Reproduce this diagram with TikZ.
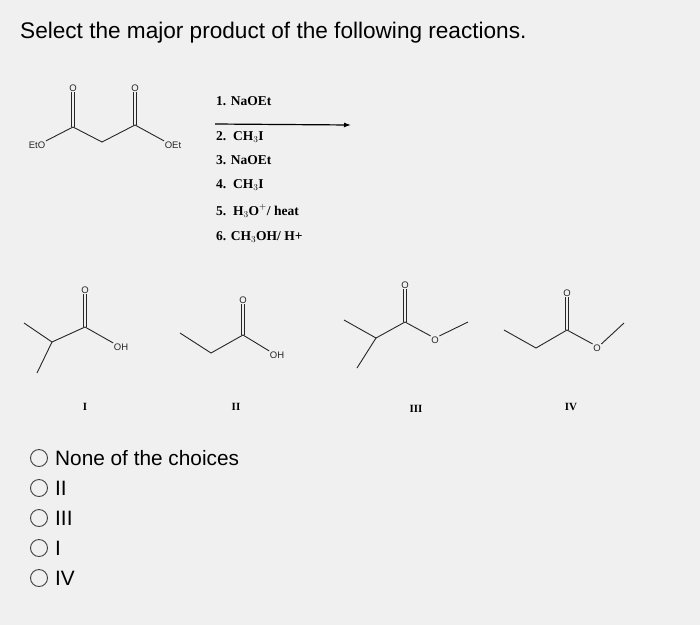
\documentclass[tikz,border=0pt]{standalone}
\usepackage{fontspec}
\setmainfont{Liberation Sans}
\newfontfamily\tms{Liberation Serif}
\usetikzlibrary{arrows.meta}
\begin{document}
\begin{tikzpicture}[x=1pt,y=-1pt,
  bond/.style={line width=0.9pt,black!85},
  atom/.style={inner sep=0.5pt,font=\fontsize{9.5}{10}\selectfont,text=black!85},
  reag/.style={anchor=west,inner sep=0,font=\tms\bfseries\fontsize{13.5}{15}\selectfont},
  numlab/.style={inner sep=0,font=\tms\bfseries\fontsize{11}{12}\selectfont},
  choice/.style={anchor=west,inner sep=0,font=\fontsize{20.8}{24}\selectfont},
  radio/.style={circle,draw=black!75,line width=0.9pt,minimum size=17pt,inner sep=0}]
\fill[black!6] (0,0) rectangle (700,625);
\useasboundingbox (0,0) rectangle (700,625);
\node[anchor=west,inner sep=0,font=\fontsize{22.6}{26}\selectfont] (title) at (20,33) {Select the major product of the following reactions.};
% starting material
\node[atom] (eto) at (37,145) {EtO};
\coordinate (c1) at (73,127);
\node[atom] (o1) at (73,88) {O};
\coordinate (ch2) at (102,142);
\coordinate (c2) at (135,125);
\node[atom] (o2) at (135,88) {O};
\node[atom] (oet) at (173,145) {OEt};
\draw[bond] (eto.north east) -- (c1) -- (ch2) -- (c2) -- (oet.north west);
\draw[bond] ([xshift=-1.6pt]c1) -- ([xshift=-1.6pt]o1.south);
\draw[bond] ([xshift=1.6pt]c1) -- ([xshift=1.6pt]o1.south);
\draw[bond] ([xshift=-1.6pt]c2) -- ([xshift=-1.6pt]o2.south);
\draw[bond] ([xshift=1.6pt]c2) -- ([xshift=1.6pt]o2.south);
% reagents
\node[reag] (r1) at (216,101) {1. NaOEt};
\coordinate (a1) at (215,124);
\coordinate (a2) at (351,125);
\draw[line width=1.2pt,-{Latex[length=7pt,width=5pt]}] (a1) -- (a2);
\node[reag] (r2) at (216,137) {2.\ \ CH$_3$I};
\node[reag] (r3) at (216,160) {3. NaOEt};
\node[reag] (r4) at (216,185) {4.\ \ CH$_3$I};
\node[reag] (r5) at (216,211) {5.\ \ H$_3$O$^+$/ heat};
\node[reag] (r6) at (216,237) {6. CH$_3$OH/ H+};
% product I
\coordinate (i1) at (24,323); \coordinate (i2) at (52,342); \coordinate (i3) at (37,373);
\coordinate (ic) at (85,327); \node[atom] (io) at (85,290) {O}; \node[atom] (ioh) at (121,347) {OH};
\draw[bond] (i1) -- (i2) -- (ic) -- (ioh.north west); \draw[bond] (i2) -- (i3);
\draw[bond] ([xshift=-1.6pt]ic) -- ([xshift=-1.6pt]io.south);
\draw[bond] ([xshift=1.6pt]ic) -- ([xshift=1.6pt]io.south);
\node[numlab] (lI) at (85,407) {I};
% product II
\coordinate (ii1) at (180,333); \coordinate (ii2) at (211,353);
\coordinate (iic) at (243,335); \node[atom] (iio) at (243,300) {O}; \node[atom] (iioh) at (277,355) {OH};
\draw[bond] (ii1) -- (ii2) -- (iic) -- (iioh.north west);
\draw[bond] ([xshift=-1.6pt]iic) -- ([xshift=-1.6pt]iio.south);
\draw[bond] ([xshift=1.6pt]iic) -- ([xshift=1.6pt]iio.south);
\node[numlab] (lII) at (236,407) {II};
% product III
\coordinate (t1) at (344,320); \coordinate (t2) at (376,338); \coordinate (t3) at (357,368);
\coordinate (tc) at (405,322); \node[atom] (to) at (405,285) {O}; \node[atom] (tos) at (435,340) {O};
\coordinate (tm) at (468,322);
\draw[bond] (t1) -- (t2) -- (tc) -- (tos.north west); \draw[bond] (t2) -- (t3);
\draw[bond] (tos.north east) -- (tm);
\draw[bond] ([xshift=-1.6pt]tc) -- ([xshift=-1.6pt]to.south);
\draw[bond] ([xshift=1.6pt]tc) -- ([xshift=1.6pt]to.south);
\node[numlab] (lIII) at (416,409) {III};
% product IV
\coordinate (f1) at (504,330); \coordinate (f2) at (536,348);
\coordinate (fc) at (567,330); \node[atom] (fo) at (567,293) {O}; \node[atom] (fos) at (597,348) {O};
\coordinate (fm) at (624,323);
\draw[bond] (f1) -- (f2) -- (fc) -- (fos.north west);
\draw[bond] (fos.north east) -- (fm);
\draw[bond] ([xshift=-1.6pt]fc) -- ([xshift=-1.6pt]fo.south);
\draw[bond] ([xshift=1.6pt]fc) -- ([xshift=1.6pt]fo.south);
\node[numlab] (lIV) at (571,407) {IV};
% choices
\node[radio] (b1) at (39,458) {}; \node[choice] (c1t) at (55,458) {None of the choices};
\node[radio] (b2) at (39,488) {}; \node[choice] (c2t) at (55,488) {II};
\node[radio] (b3) at (39,518) {}; \node[choice] (c3t) at (55,518) {III};
\node[radio] (b4) at (39,548) {}; \node[choice] (c4t) at (55,548) {I};
\node[radio] (b5) at (39,578) {}; \node[choice] (c5t) at (55,578) {IV};
\end{tikzpicture}
\end{document}
